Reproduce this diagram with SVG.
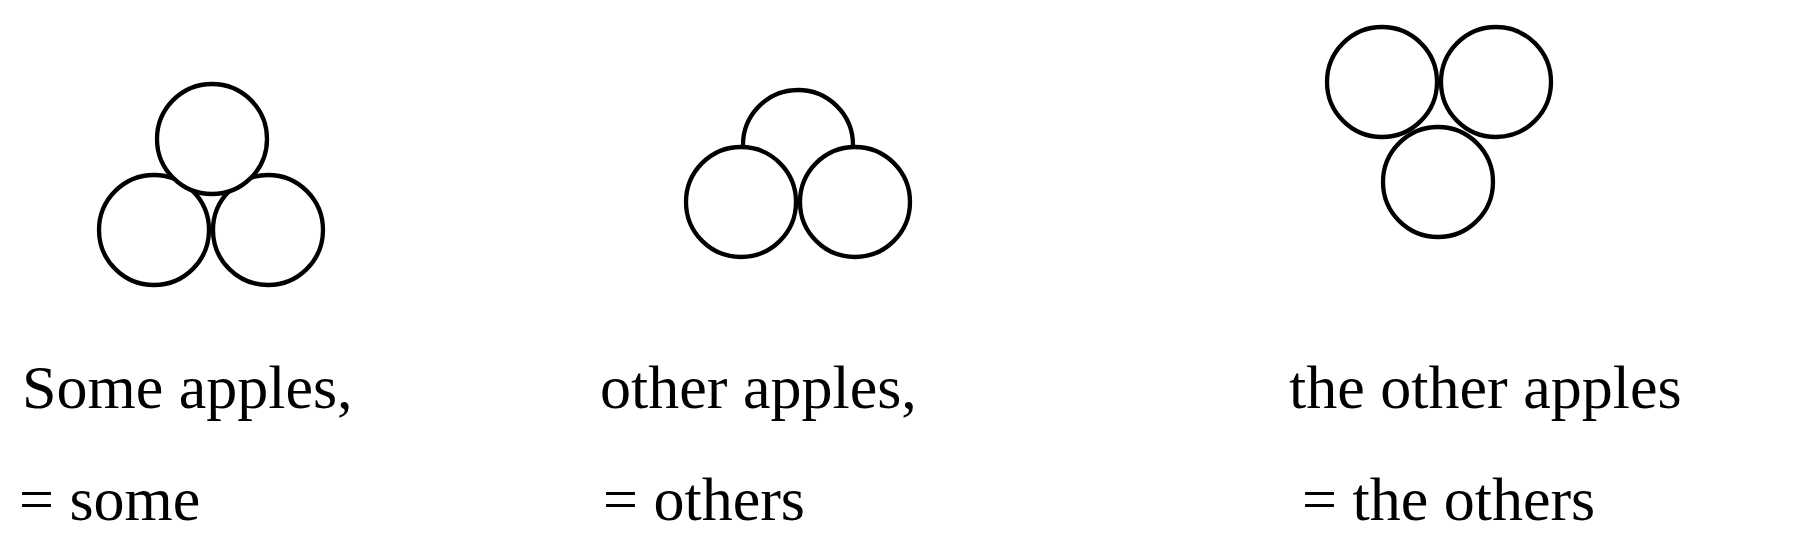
<svg xmlns="http://www.w3.org/2000/svg" width="1794" height="550" viewBox="0 0 1794 550">
<style>
.a{fill:#fff;stroke:#000;stroke-width:4.3}
.t{font-family:"Liberation Serif","Times New Roman",serif;font-size:62px;fill:#000}
</style>
<rect width="1794" height="550" fill="#fff"/>
<g id="some">
<circle class="a" cx="154" cy="230" r="55"/>
<circle class="a" cx="268" cy="230" r="55"/>
<circle class="a" cx="212" cy="139" r="55"/>
</g>
<g id="others">
<circle class="a" cx="798" cy="145" r="55"/>
<circle class="a" cx="741" cy="202" r="55"/>
<circle class="a" cx="855" cy="202" r="55"/>
</g>
<g id="theothers">
<circle class="a" cx="1382" cy="82" r="55"/>
<circle class="a" cx="1496" cy="82" r="55"/>
<circle class="a" cx="1438" cy="182" r="55"/>
</g>
<g id="labels">
<text class="t" x="22" y="408">Some apples,</text>
<text class="t" x="19" y="520">= some</text>
<text class="t" x="600" y="408">other apples,</text>
<text class="t" x="603" y="520">= others</text>
<text class="t" x="1289" y="408">the other apples</text>
<text class="t" x="1302" y="520">= the others</text>
</g>
</svg>
